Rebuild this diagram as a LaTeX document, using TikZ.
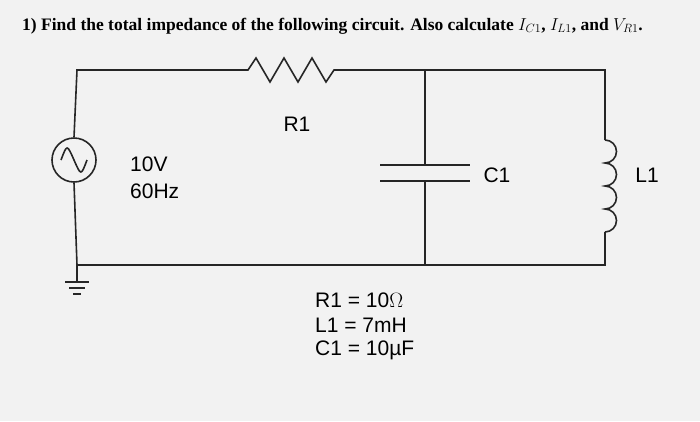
\documentclass[tikz,border=0pt]{standalone}
\usetikzlibrary{calc}
\usepackage{fontspec}
\setmainfont{Liberation Serif}
\newfontfamily\lab{Liberation Sans}
\begin{document}
\begin{tikzpicture}[x=1pt,y=-1pt,
  wire/.style={line width=1.6pt,black!85},
  lbl/.style={font=\lab\fontsize{21}{24}\selectfont,inner sep=0pt}]
\useasboundingbox[fill=black!5] (0,0) rectangle (700,421);
\node[font=\bfseries\fontsize{17.5}{20}\selectfont,anchor=west,inner sep=0pt] (title) at (22,26)
 {1) Find the total impedance of the following circuit. Also calculate $I_{C1}$, $I_{L1}$, and $V_{R1}$.};
% nodes/coordinates
\coordinate (tl) at (77,70); \coordinate (tr) at (605,70);
\coordinate (bl) at (77,265); \coordinate (br) at (605,265);
\coordinate (r1a) at (240,70); \coordinate (r1b) at (345,70);
\coordinate (ct) at (425,70); \coordinate (cb) at (425,265);
\coordinate (cp1) at (425,165); \coordinate (cp2) at (425,181);
\coordinate (la) at (605,140); \coordinate (lb) at (605,232);
\node[draw,wire,circle,minimum size=44pt,inner sep=0pt] (src) at (74,160) {};
\coordinate (g) at (77,282);
% wires
\draw[wire] (src.north) -- (tl) -- (r1a);
\draw[wire] (r1a) -- ++(8,0) -- ++(8,-12) -- ++(14,24) -- ++(14,-24) -- ++(14,24) -- ++(14,-24) -- ++(14,24) -- ++(8,-12) -- (r1b);
\draw[wire] (r1b) -- (tr) -- (la);
\draw[wire] (la) \foreach \i in {1,...,4} {arc[start angle=-90,end angle=90,radius=11.5]};
\draw[wire] (lb) -- (br) -- (bl) -- (src.south);
\draw[wire] (bl) -- (g);
\draw[wire] (ct) -- (cp1); \draw[wire] (cp2) -- (cb);
\draw[wire] ([xshift=-45]cp1) -- ([xshift=45]cp1);
\draw[wire] ([xshift=-45]cp2) -- ([xshift=45]cp2);
\draw[wire] ([xshift=-12]g) -- ([xshift=12]g);
\draw[wire] ($(g)+(-8,6)$) -- ($(g)+(8,6)$);
\draw[wire] ($(g)+(-4,12)$) -- ($(g)+(4,12)$);
\draw[wire] ([xshift=-13]src.center) .. controls ([xshift=-7,yshift=16]src.center) .. (src.center) .. controls ([xshift=7,yshift=-16]src.center) .. ([xshift=13]src.center);
% labels
\node[lbl] (lr1) at (297,124) {R1};
\node[lbl,anchor=west] (lv) at (130,164) {10V};
\node[lbl,anchor=west] (lf) at (130,191) {60Hz};
\node[lbl] (lc1) at (497,175) {C1};
\node[lbl] (ll1) at (647,175) {L1};
\node[lbl,anchor=west] (v1) at (315,300) {R1 = 10$\Omega$};
\node[lbl,anchor=west] (v2) at (315,325) {L1 = 7mH};
\node[lbl,anchor=west] (v3) at (315,350) {C1 = 10µF};
\end{tikzpicture}
\end{document}
